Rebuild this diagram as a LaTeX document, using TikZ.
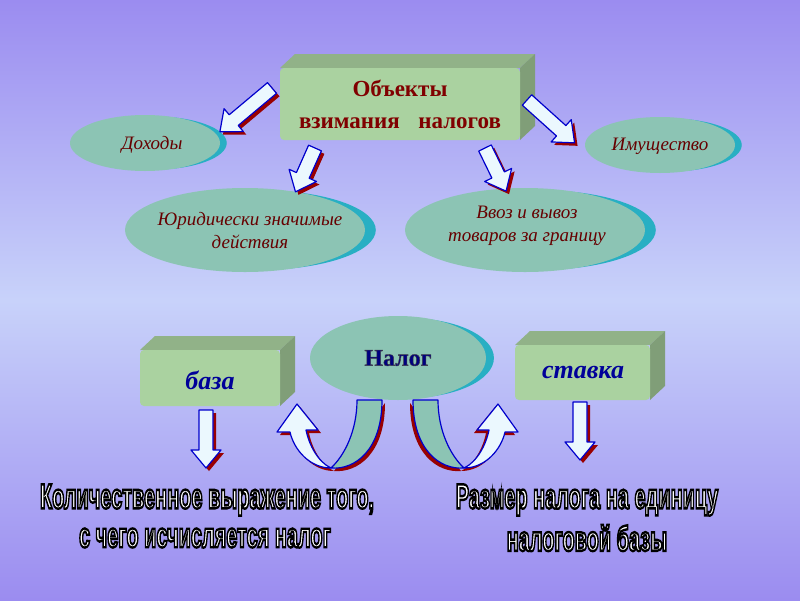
\documentclass[tikz,border=0pt]{standalone}
\usepackage{fontspec}
\setmainfont{Liberation Serif}
\newfontfamily\cond{Liberation Sans}
\definecolor{bgtop}{RGB}{155,140,240}
\definecolor{bgmid}{RGB}{200,210,250}
\definecolor{ovalc}{RGB}{140,196,180}
\definecolor{teal2}{RGB}{40,175,195}
\definecolor{boxc}{RGB}{170,210,160}
\begin{document}
\begin{tikzpicture}[x=1pt,y=-1pt,
  lbl/.style={font=\itshape\fontsize{19}{23}\selectfont,text=red!40!black,align=center},
  ell/.style={fill=ovalc,draw=none},
  shd/.style={fill=teal2},
  arr/.style={fill=cyan!8,draw=blue!80!black,line width=1.2pt,line join=round},
  ashd/.style={fill=red!60!black}]
\useasboundingbox (0,0) rectangle (800,600);
\shade[top color=bgtop,bottom color=bgmid] (0,0) rectangle (800,300);
\shade[top color=bgmid,bottom color=bgtop] (0,300) rectangle (800,600);
\newcommand\mythreebox[4]{% x1,y1,x2,y2
  \fill[boxc!85!black] (#1,#2)--(#1+15,#2-14)--(#3+15,#2-14)--(#3,#2)--cycle;
  \fill[boxc!75!black] (#3,#2)--(#3+15,#2-14)--(#3+15,#4-14)--(#3,#4)--cycle;
  \fill[boxc,rounded corners=4pt] (#1,#2) rectangle (#3,#4);}
\newcommand\myarrow[4]{% x,y,angle,length
  \begin{scope}[shift={(#1+3,#2+3)},rotate=#3]
  \fill[ashd] (0,-7)--(#4-18,-7)--(#4-18,-15)--(#4,0)--(#4-18,15)--(#4-18,7)--(0,7)--cycle;
  \end{scope}
  \begin{scope}[shift={(#1,#2)},rotate=#3]
  \draw[arr] (0,-7)--(#4-18,-7)--(#4-18,-15)--(#4,0)--(#4-18,15)--(#4-18,7)--(0,7)--cycle;
  \end{scope}}
\newcommand\myoval[5]{% name,x,y,rx,ry
  \fill[shd] (#2+#4*0.12,#3) ellipse [x radius=#4*0.97,y radius=#5*0.95];
  \path[ell] (#2,#3) ellipse [x radius=#4,y radius=#5];
  \coordinate (#1) at (#2,#3);}
% top box
\mythreebox{280}{68}{520}{140}
\node[font=\bfseries\fontsize{23}{32}\selectfont,text=red!50!black,align=center] (obj) at (400,104) {Объекты\\взимания\;\; налогов};
\myoval{doh}{145}{143}{75}{28}
\node[lbl] (dohT) at (152,145) {Доходы};
\myoval{imu}{660}{145}{75}{28}
\node[lbl] (imuT) at (660,146) {Имущество};
\myoval{yur}{245}{230}{120}{42}
\node[lbl] (yurT) at (250,231) {Юридически значимые\\действия};
\myoval{vvo}{525}{230}{120}{42}
\node[lbl] (vvoT) at (527,226) {Ввоз и вывоз\\товаров за границу};
\myarrow{272}{88}{220}{68}
\myarrow{315}{148}{-114}{48}
\myarrow{485}{148}{-64}{48}
\myarrow{527}{100}{-42}{64}
% bottom
\mythreebox{140}{350}{280}{406}
\mythreebox{515}{345}{650}{400}
\node[font=\bfseries\itshape\fontsize{26}{30}\selectfont,text=blue!60!black] (baza) at (210,380) {база};
\node[font=\bfseries\itshape\fontsize{26}{30}\selectfont,text=blue!60!black] (stav) at (583,373) {ставка};
\myoval{nal}{398}{358}{88}{42}
\node[font=\bfseries\fontsize{24}{28}\selectfont,text=blue!50!black] (nalT) at (398,358) {\special{pdf:code 2 Tr 0.5 w 0.25 0.25 0.3 RG}Налог\special{pdf:code 0 Tr}};
\myarrow{206}{410}{-90}{58}
\myarrow{580}{402}{-90}{58}
\newcommand\mycurv{%
 \fill[ashd,shift={(3,3)}] (382,400) .. controls (382,450) and (355,470) .. (331,468) .. controls (318,462) and (309,445) .. (306,430) -- (318,430) -- (297,404) -- (277,432) -- (290,432) .. controls (294,450) and (310,468) .. (331,468) -- cycle;
 \draw[arr,fill=ovalc] (382,400) .. controls (382,450) and (355,470) .. (331,468) .. controls (345,455) and (357,430) .. (357,400) -- cycle;
 \draw[arr] (331,468) .. controls (318,462) and (309,445) .. (306,430) -- (318,430) -- (297,404) -- (277,432) -- (290,432) .. controls (294,450) and (310,468) .. (331,468) -- cycle;}
\mycurv
\begin{scope}[shift={(795,0)},xscale=-1]\mycurv\end{scope}
% outlined texts
\newcommand\myotext[4]{%
 \node[font=\cond\bfseries\fontsize{35}{38}\selectfont,text=white,xscale=0.57] (#1) at (#2,#3) {\special{pdf:code 2 Tr 2.4 w 0 G}#4\special{pdf:code 0 Tr}};}
\myotext{t1}{207}{500}{Количественное выражение того,}
\myotext{t2}{205}{538}{с чего исчисляется налог}
\myotext{t3}{587}{500}{Размер налога на единицу}
\myotext{t4}{587}{538}{налоговой базы}
\end{tikzpicture}
\end{document}
